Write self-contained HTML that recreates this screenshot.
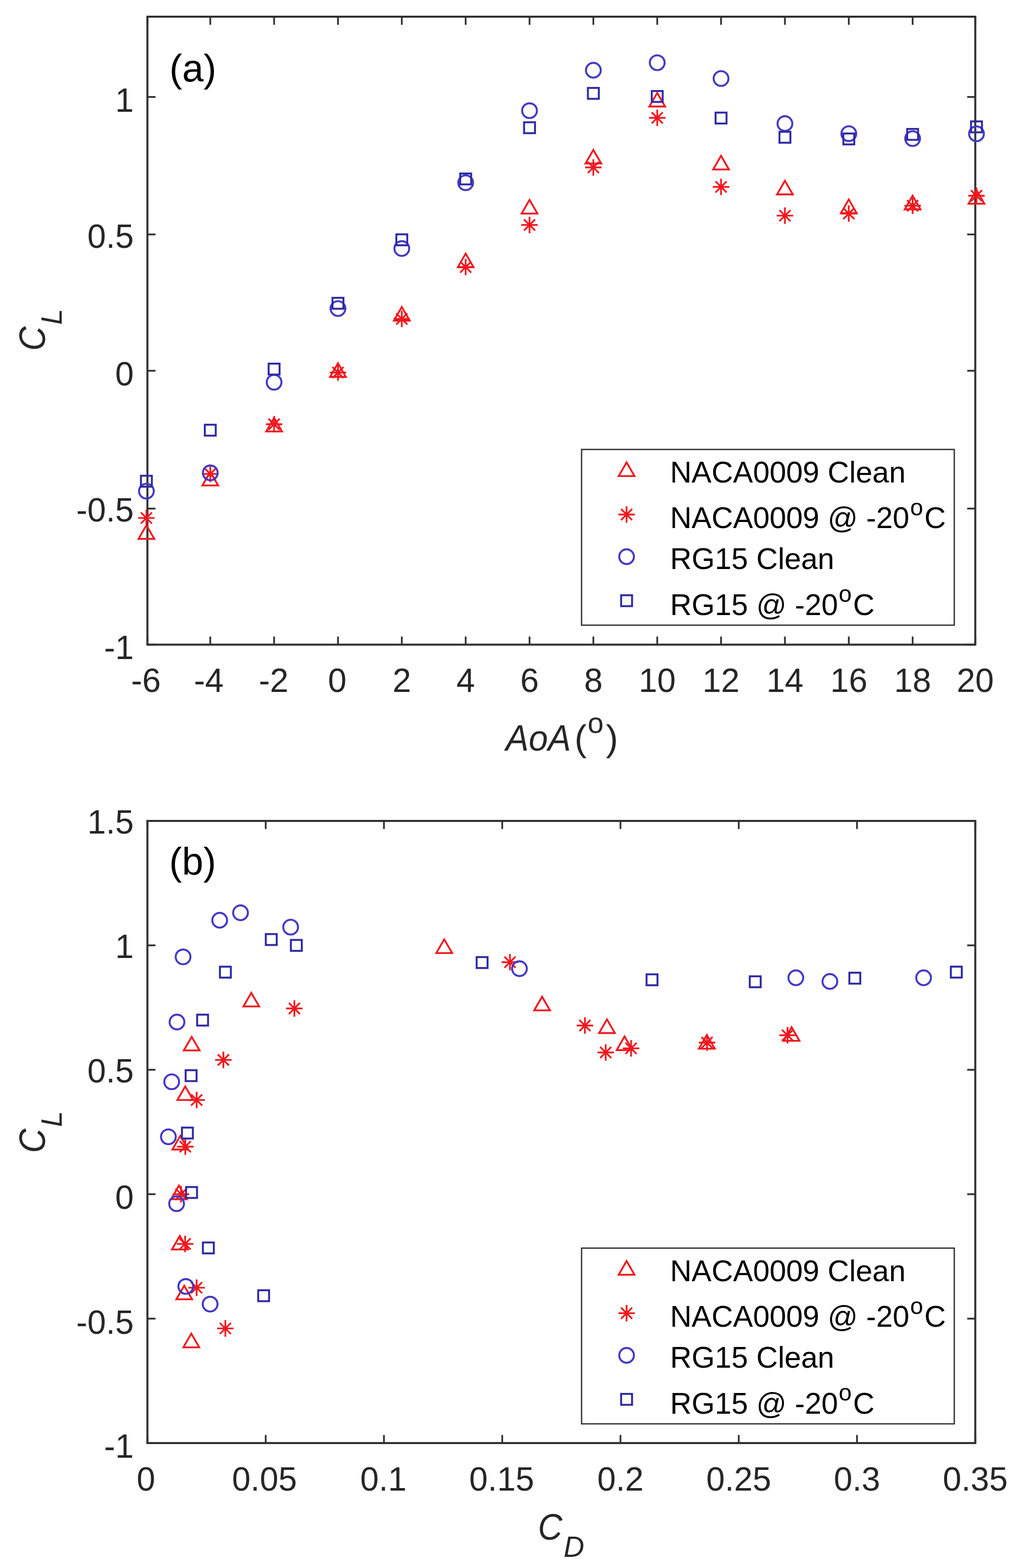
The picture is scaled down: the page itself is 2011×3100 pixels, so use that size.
<!DOCTYPE html>
<html><head><meta charset="utf-8"><title>CL plots</title>
<style>html,body{margin:0;padding:0;background:#fff;overflow:hidden;width:2011px;height:3100px;}svg{display:block;}.t{fill:none;stroke:#f0181e;stroke-width:3.6;stroke-linejoin:miter;}.a{fill:none;stroke:#f0181e;stroke-width:3.4;}.ad{fill:#f0181e;}.c{fill:none;stroke:#4338c6;stroke-width:3.9;}.s{fill:none;stroke:#2f29a4;stroke-width:3.8;}.ax{fill:none;stroke:#303030;stroke-width:4;}.tk{fill:none;stroke:#303030;stroke-width:3.4;}.lg{fill:#fff;stroke:#303030;stroke-width:2.6;}text{font-family:'Liberation Sans', Arial, Helvetica, sans-serif;}.tl{font-size:66px;fill:#262626;}.lt{font-size:59px;fill:#000;}.it{font-style:italic;}</style></head><body>
<svg width="2011" height="3100" viewBox="0 0 2011 3100">
<rect x="0" y="0" width="2011" height="3100" fill="#fff"/>
<rect x="291.5" y="33" width="1637.0" height="1241.5" class="ax"/>
<path d="M291.5,1274.5V1258.5M291.5,33V49M415.8,1274.5V1258.5M415.8,33V49M542.0,1274.5V1258.5M542.0,33V49M668.3,1274.5V1258.5M668.3,33V49M794.5,1274.5V1258.5M794.5,33V49M920.8,1274.5V1258.5M920.8,33V49M1047.1,1274.5V1258.5M1047.1,33V49M1173.3,1274.5V1258.5M1173.3,33V49M1299.6,1274.5V1258.5M1299.6,33V49M1425.8,1274.5V1258.5M1425.8,33V49M1552.1,1274.5V1258.5M1552.1,33V49M1678.4,1274.5V1258.5M1678.4,33V49M1804.6,1274.5V1258.5M1804.6,33V49M1928.5,1274.5V1258.5M1928.5,33V49M291.5,191.7H307.5M1928.5,191.7H1912.5M291.5,463.5H307.5M1928.5,463.5H1912.5M291.5,733.0H307.5M1928.5,733.0H1912.5M291.5,1005.5H307.5M1928.5,1005.5H1912.5M291.5,1274.5H307.5M1928.5,1274.5H1912.5" class="tk"/>
<text x="288.5" y="1368.0" class="tl" text-anchor="middle">-6</text>
<text x="412.8" y="1368.0" class="tl" text-anchor="middle">-4</text>
<text x="541.0" y="1368.0" class="tl" text-anchor="middle">-2</text>
<text x="666.8" y="1368.0" class="tl" text-anchor="middle">0</text>
<text x="794.5" y="1368.0" class="tl" text-anchor="middle">2</text>
<text x="920.8" y="1368.0" class="tl" text-anchor="middle">4</text>
<text x="1047.1" y="1368.0" class="tl" text-anchor="middle">6</text>
<text x="1173.3" y="1368.0" class="tl" text-anchor="middle">8</text>
<text x="1299.6" y="1368.0" class="tl" text-anchor="middle">10</text>
<text x="1425.8" y="1368.0" class="tl" text-anchor="middle">12</text>
<text x="1552.1" y="1368.0" class="tl" text-anchor="middle">14</text>
<text x="1678.4" y="1368.0" class="tl" text-anchor="middle">16</text>
<text x="1804.6" y="1368.0" class="tl" text-anchor="middle">18</text>
<text x="1928.5" y="1368.0" class="tl" text-anchor="middle">20</text>
<text x="264.5" y="220.6" class="tl" text-anchor="end">1</text>
<text x="264.5" y="489.7" class="tl" text-anchor="end">0.5</text>
<text x="264.5" y="762.1" class="tl" text-anchor="end">0</text>
<text x="264.5" y="1030.8" class="tl" text-anchor="end">-0.5</text>
<text x="264.5" y="1303.2" class="tl" text-anchor="end">-1</text>
<path d="M289.5,1038.4L305.1,1065.4L273.9,1065.4Z" class="t"/>
<path d="M415.8,932.8L431.4,959.8L400.2,959.8Z" class="t"/>
<path d="M542.0,826.0L557.6,853.0L526.4,853.0Z" class="t"/>
<path d="M668.3,718.1L683.9,745.1L652.7,745.1Z" class="t"/>
<path d="M794.5,606.9L810.1,633.9L778.9,633.9Z" class="t"/>
<path d="M920.8,501.4L936.4,528.4L905.2,528.4Z" class="t"/>
<path d="M1047.1,395.2L1062.7,422.2L1031.5,422.2Z" class="t"/>
<path d="M1173.3,296.3L1188.9,323.3L1157.7,323.3Z" class="t"/>
<path d="M1299.6,183.6L1315.2,210.6L1284.0,210.6Z" class="t"/>
<path d="M1425.8,308.0L1441.4,335.0L1410.2,335.0Z" class="t"/>
<path d="M1552.1,357.4L1567.7,384.4L1536.5,384.4Z" class="t"/>
<path d="M1678.4,394.4L1694.0,421.4L1662.8,421.4Z" class="t"/>
<path d="M1804.6,386.9L1820.2,413.9L1789.0,413.9Z" class="t"/>
<path d="M1930.9,375.7L1946.5,402.7L1915.3,402.7Z" class="t"/>
<path d="M273.2,1024.1H305.8M289.5,1007.8V1040.4M278.5,1013.1L300.5,1035.1M278.5,1035.1L300.5,1013.1" class="a"/><circle cx="289.5" cy="1024.1" r="4.5" class="ad"/>
<path d="M399.5,937.0H432.1M415.8,920.7V953.3M404.8,926.0L426.8,948.0M404.8,948.0L426.8,926.0" class="a"/><circle cx="415.8" cy="937.0" r="4.5" class="ad"/>
<path d="M525.7,838.8H558.3M542.0,822.5V855.1M531.0,827.8L553.0,849.8M531.0,849.8L553.0,827.8" class="a"/><circle cx="542.0" cy="838.8" r="4.5" class="ad"/>
<path d="M652.0,736.5H684.6M668.3,720.2V752.8M657.3,725.5L679.3,747.5M657.3,747.5L679.3,725.5" class="a"/><circle cx="668.3" cy="736.5" r="4.5" class="ad"/>
<path d="M778.2,630.5H810.8M794.5,614.2V646.8M783.5,619.5L805.5,641.5M783.5,641.5L805.5,619.5" class="a"/><circle cx="794.5" cy="630.5" r="4.5" class="ad"/>
<path d="M904.5,528.0H937.1M920.8,511.7V544.3M909.8,517.0L931.8,539.0M909.8,539.0L931.8,517.0" class="a"/><circle cx="920.8" cy="528.0" r="4.5" class="ad"/>
<path d="M1030.8,444.8H1063.4M1047.1,428.5V461.1M1036.1,433.8L1058.1,455.8M1036.1,455.8L1058.1,433.8" class="a"/><circle cx="1047.1" cy="444.8" r="4.5" class="ad"/>
<path d="M1157.0,331.0H1189.6M1173.3,314.7V347.3M1162.3,320.0L1184.3,342.0M1162.3,342.0L1184.3,320.0" class="a"/><circle cx="1173.3" cy="331.0" r="4.5" class="ad"/>
<path d="M1283.3,233.0H1315.9M1299.6,216.7V249.3M1288.6,222.0L1310.6,244.0M1288.6,244.0L1310.6,222.0" class="a"/><circle cx="1299.6" cy="233.0" r="4.5" class="ad"/>
<path d="M1409.5,369.5H1442.1M1425.8,353.2V385.8M1414.8,358.5L1436.8,380.5M1414.8,380.5L1436.8,358.5" class="a"/><circle cx="1425.8" cy="369.5" r="4.5" class="ad"/>
<path d="M1535.8,426.4H1568.4M1552.1,410.1V442.7M1541.1,415.4L1563.1,437.4M1541.1,437.4L1563.1,415.4" class="a"/><circle cx="1552.1" cy="426.4" r="4.5" class="ad"/>
<path d="M1662.1,422.3H1694.7M1678.4,406.0V438.6M1667.4,411.3L1689.4,433.3M1667.4,433.3L1689.4,411.3" class="a"/><circle cx="1678.4" cy="422.3" r="4.5" class="ad"/>
<path d="M1788.3,406.8H1820.9M1804.6,390.5V423.1M1793.6,395.8L1815.6,417.8M1793.6,417.8L1815.6,395.8" class="a"/><circle cx="1804.6" cy="406.8" r="4.5" class="ad"/>
<path d="M1914.6,387.0H1947.2M1930.9,370.7V403.3M1919.9,376.0L1941.9,398.0M1919.9,398.0L1941.9,376.0" class="a"/><circle cx="1930.9" cy="387.0" r="4.5" class="ad"/>
<circle cx="289.5" cy="971.0" r="14.6" class="c"/>
<circle cx="415.8" cy="934.8" r="14.6" class="c"/>
<circle cx="542.0" cy="755.7" r="14.6" class="c"/>
<circle cx="668.3" cy="610.0" r="14.6" class="c"/>
<circle cx="794.5" cy="491.3" r="14.6" class="c"/>
<circle cx="920.8" cy="361.2" r="14.6" class="c"/>
<circle cx="1047.1" cy="218.8" r="14.6" class="c"/>
<circle cx="1173.3" cy="138.9" r="14.6" class="c"/>
<circle cx="1299.6" cy="124.0" r="14.6" class="c"/>
<circle cx="1425.8" cy="155.2" r="14.6" class="c"/>
<circle cx="1552.1" cy="244.4" r="14.6" class="c"/>
<circle cx="1678.4" cy="264.2" r="14.6" class="c"/>
<circle cx="1804.6" cy="274.0" r="14.6" class="c"/>
<circle cx="1930.9" cy="264.5" r="14.6" class="c"/>
<rect x="278.7" y="940.6" width="21.6" height="21.6" class="s"/>
<rect x="405.0" y="839.7" width="21.6" height="21.6" class="s"/>
<rect x="531.2" y="718.9" width="21.6" height="21.6" class="s"/>
<rect x="657.5" y="588.8" width="21.6" height="21.6" class="s"/>
<rect x="783.7" y="463.3" width="21.6" height="21.6" class="s"/>
<rect x="910.0" y="343.0" width="21.6" height="21.6" class="s"/>
<rect x="1036.3" y="241.7" width="21.6" height="21.6" class="s"/>
<rect x="1162.5" y="173.8" width="21.6" height="21.6" class="s"/>
<rect x="1288.8" y="179.9" width="21.6" height="21.6" class="s"/>
<rect x="1415.0" y="222.6" width="21.6" height="21.6" class="s"/>
<rect x="1541.3" y="260.6" width="21.6" height="21.6" class="s"/>
<rect x="1667.6" y="263.9" width="21.6" height="21.6" class="s"/>
<rect x="1793.8" y="254.9" width="21.6" height="21.6" class="s"/>
<rect x="1920.1" y="240.0" width="21.6" height="21.6" class="s"/>
<rect x="1150" y="888.6" width="737" height="347.4" class="lg"/>
<path d="M1239.0,914.2L1254.6,941.2L1223.4,941.2Z" class="t"/>
<path d="M1222.7,1017.2H1255.3M1239.0,1000.9V1033.5M1228.0,1006.2L1250.0,1028.2M1228.0,1028.2L1250.0,1006.2" class="a"/><circle cx="1239.0" cy="1017.2" r="4.5" class="ad"/>
<circle cx="1239.0" cy="1100.6" r="14.6" class="c"/>
<rect x="1228.2" y="1176.8" width="21.6" height="21.6" class="s"/>
<text x="1325" y="953.8" class="lt">NACA0009 Clean</text>
<text x="1325" y="1044.4" class="lt">NACA0009 @ -20<tspan font-size="46px" dx="1.5" dy="-25.5">o</tspan><tspan dx="2.5" dy="25.5">C</tspan></text>
<text x="1325" y="1125.2" class="lt">RG15 Clean</text>
<text x="1325" y="1215.6" class="lt">RG15 @ -20<tspan font-size="46px" dx="1.5" dy="-25.5">o</tspan><tspan dx="2.5" dy="25.5">C</tspan></text>
<text x="335" y="160.5" font-size="76px" fill="#000">(a)</text>
<text transform="translate(88.5,693.5) rotate(-90) scale(0.92,1)" font-size="72.6px" fill="#262626" class="it">C</text>
<text transform="translate(122,642) rotate(-90)" font-size="56.6px" fill="#262626" class="it">L</text>
<text transform="translate(1000,1484.2) scale(0.94,1)" font-size="72.6px" fill="#262626" class="it">AoA</text>
<text x="1136" y="1484.2" font-size="72.6px" fill="#262626">(</text>
<text x="1162" y="1449" font-size="56.6px" fill="#262626">o</text>
<text x="1198" y="1484.2" font-size="72.6px" fill="#262626">)</text>
<rect x="291.5" y="1623" width="1637.0" height="1230" class="ax"/>
<path d="M291.5,2853V2837M291.5,1623V1639M525.4,2853V2837M525.4,1623V1639M759.2,2853V2837M759.2,1623V1639M993.1,2853V2837M993.1,1623V1639M1226.9,2853V2837M1226.9,1623V1639M1460.8,2853V2837M1460.8,1623V1639M1694.6,2853V2837M1694.6,1623V1639M1928.5,2853V2837M1928.5,1623V1639M291.5,1623.0H307.5M1928.5,1623.0H1912.5M291.5,1869.0H307.5M1928.5,1869.0H1912.5M291.5,2115.0H307.5M1928.5,2115.0H1912.5M291.5,2361.0H307.5M1928.5,2361.0H1912.5M291.5,2607.0H307.5M1928.5,2607.0H1912.5M291.5,2853.0H307.5M1928.5,2853.0H1912.5" class="tk"/>
<text x="288.5" y="2946.5" class="tl" text-anchor="middle">0</text>
<text x="522.9" y="2946.5" class="tl" text-anchor="middle">0.05</text>
<text x="758.2" y="2946.5" class="tl" text-anchor="middle">0.1</text>
<text x="992.1" y="2946.5" class="tl" text-anchor="middle">0.15</text>
<text x="1226.9" y="2946.5" class="tl" text-anchor="middle">0.2</text>
<text x="1460.8" y="2946.5" class="tl" text-anchor="middle">0.25</text>
<text x="1694.6" y="2946.5" class="tl" text-anchor="middle">0.3</text>
<text x="1928.5" y="2946.5" class="tl" text-anchor="middle">0.35</text>
<text x="264.5" y="1648.2" class="tl" text-anchor="end">1.5</text>
<text x="264.5" y="1893.7" class="tl" text-anchor="end">1</text>
<text x="264.5" y="2140.0" class="tl" text-anchor="end">0.5</text>
<text x="264.5" y="2389.9" class="tl" text-anchor="end">0</text>
<text x="264.5" y="2636.8" class="tl" text-anchor="end">-0.5</text>
<text x="264.5" y="2882.4" class="tl" text-anchor="end">-1</text>
<path d="M378.3,2636.7L393.9,2663.7L362.7,2663.7Z" class="t"/>
<path d="M364.3,2541.8L379.9,2568.8L348.7,2568.8Z" class="t"/>
<path d="M355.6,2443.3L371.2,2470.3L340.0,2470.3Z" class="t"/>
<path d="M353.9,2343.9L369.5,2370.9L338.3,2370.9Z" class="t"/>
<path d="M356.5,2245.6L372.1,2272.6L340.9,2272.6Z" class="t"/>
<path d="M366.3,2147.8L381.9,2174.8L350.7,2174.8Z" class="t"/>
<path d="M379.1,2049.8L394.7,2076.8L363.5,2076.8Z" class="t"/>
<path d="M496.9,1962.8L512.5,1989.8L481.3,1989.8Z" class="t"/>
<path d="M878.4,1857.2L894.0,1884.2L862.8,1884.2Z" class="t"/>
<path d="M1071.9,1970.5L1087.5,1997.5L1056.3,1997.5Z" class="t"/>
<path d="M1200.2,2015.4L1215.8,2042.4L1184.6,2042.4Z" class="t"/>
<path d="M1235.0,2049.1L1250.6,2076.1L1219.4,2076.1Z" class="t"/>
<path d="M1397.7,2046.2L1413.3,2073.2L1382.1,2073.2Z" class="t"/>
<path d="M1565.3,2030.8L1580.9,2057.8L1549.7,2057.8Z" class="t"/>
<path d="M429.3,2626.4H461.9M445.6,2610.1V2642.7M434.6,2615.4L456.6,2637.4M434.6,2637.4L456.6,2615.4" class="a"/><circle cx="445.6" cy="2626.4" r="4.5" class="ad"/>
<path d="M372.5,2545.9H405.1M388.8,2529.6V2562.2M377.8,2534.9L399.8,2556.9M377.8,2556.9L399.8,2534.9" class="a"/><circle cx="388.8" cy="2545.9" r="4.5" class="ad"/>
<path d="M349.7,2459.3H382.3M366.0,2443.0V2475.6M355.0,2448.3L377.0,2470.3M355.0,2470.3L377.0,2448.3" class="a"/><circle cx="366.0" cy="2459.3" r="4.5" class="ad"/>
<path d="M341.7,2361.0H374.3M358.0,2344.7V2377.3M347.0,2350.0L369.0,2372.0M347.0,2372.0L369.0,2350.0" class="a"/><circle cx="358.0" cy="2361.0" r="4.5" class="ad"/>
<path d="M350.1,2267.0H382.7M366.4,2250.7V2283.3M355.4,2256.0L377.4,2278.0M355.4,2278.0L377.4,2256.0" class="a"/><circle cx="366.4" cy="2267.0" r="4.5" class="ad"/>
<path d="M372.5,2174.8H405.1M388.8,2158.5V2191.1M377.8,2163.8L399.8,2185.8M377.8,2185.8L399.8,2163.8" class="a"/><circle cx="388.8" cy="2174.8" r="4.5" class="ad"/>
<path d="M425.4,2095.5H458.0M441.7,2079.2V2111.8M430.7,2084.5L452.7,2106.5M430.7,2106.5L452.7,2084.5" class="a"/><circle cx="441.7" cy="2095.5" r="4.5" class="ad"/>
<path d="M565.8,1993.8H598.4M582.1,1977.5V2010.1M571.1,1982.8L593.1,2004.8M571.1,2004.8L593.1,1982.8" class="a"/><circle cx="582.1" cy="1993.8" r="4.5" class="ad"/>
<path d="M992.1,1902.2H1024.7M1008.4,1885.9V1918.5M997.4,1891.2L1019.4,1913.2M997.4,1913.2L1019.4,1891.2" class="a"/><circle cx="1008.4" cy="1902.2" r="4.5" class="ad"/>
<path d="M1140.3,2027.5H1172.9M1156.6,2011.2V2043.8M1145.6,2016.5L1167.6,2038.5M1145.6,2038.5L1167.6,2016.5" class="a"/><circle cx="1156.6" cy="2027.5" r="4.5" class="ad"/>
<path d="M1181.4,2080.7H1214.0M1197.7,2064.4V2097.0M1186.7,2069.7L1208.7,2091.7M1186.7,2091.7L1208.7,2069.7" class="a"/><circle cx="1197.7" cy="2080.7" r="4.5" class="ad"/>
<path d="M1231.6,2072.6H1264.2M1247.9,2056.3V2088.9M1236.9,2061.6L1258.9,2083.6M1236.9,2083.6L1258.9,2061.6" class="a"/><circle cx="1247.9" cy="2072.6" r="4.5" class="ad"/>
<path d="M1381.7,2061.2H1414.3M1398.0,2044.9V2077.5M1387.0,2050.2L1409.0,2072.2M1387.0,2072.2L1409.0,2050.2" class="a"/><circle cx="1398.0" cy="2061.2" r="4.5" class="ad"/>
<path d="M1540.9,2046.7H1573.5M1557.2,2030.4V2063.0M1546.2,2035.7L1568.2,2057.7M1546.2,2057.7L1568.2,2035.7" class="a"/><circle cx="1557.2" cy="2046.7" r="4.5" class="ad"/>
<circle cx="415.5" cy="2578.3" r="14.6" class="c"/>
<circle cx="367.4" cy="2543.3" r="14.6" class="c"/>
<circle cx="349.2" cy="2379.7" r="14.6" class="c"/>
<circle cx="333.0" cy="2247.5" r="14.6" class="c"/>
<circle cx="339.5" cy="2138.7" r="14.6" class="c"/>
<circle cx="350.0" cy="2020.6" r="14.6" class="c"/>
<circle cx="362.0" cy="1891.8" r="14.6" class="c"/>
<circle cx="434.4" cy="1819.4" r="14.6" class="c"/>
<circle cx="475.6" cy="1804.6" r="14.6" class="c"/>
<circle cx="574.7" cy="1833.0" r="14.6" class="c"/>
<circle cx="1027.2" cy="1915.1" r="14.6" class="c"/>
<circle cx="1573.7" cy="1933.1" r="14.6" class="c"/>
<circle cx="1641.0" cy="1940.4" r="14.6" class="c"/>
<circle cx="1826.3" cy="1933.1" r="14.6" class="c"/>
<rect x="510.5" y="2550.9" width="21.6" height="21.6" class="s"/>
<rect x="401.2" y="2456.4" width="21.6" height="21.6" class="s"/>
<rect x="368.0" y="2346.8" width="21.6" height="21.6" class="s"/>
<rect x="359.8" y="2229.3" width="21.6" height="21.6" class="s"/>
<rect x="367.1" y="2115.8" width="21.6" height="21.6" class="s"/>
<rect x="389.8" y="2006.0" width="21.6" height="21.6" class="s"/>
<rect x="434.9" y="1911.2" width="21.6" height="21.6" class="s"/>
<rect x="525.6" y="1846.7" width="21.6" height="21.6" class="s"/>
<rect x="575.2" y="1858.3" width="21.6" height="21.6" class="s"/>
<rect x="942.5" y="1892.2" width="21.6" height="21.6" class="s"/>
<rect x="1278.5" y="1926.3" width="21.6" height="21.6" class="s"/>
<rect x="1482.6" y="1930.2" width="21.6" height="21.6" class="s"/>
<rect x="1679.5" y="1923.1" width="21.6" height="21.6" class="s"/>
<rect x="1880.2" y="1911.1" width="21.6" height="21.6" class="s"/>
<rect x="1150" y="2467.6" width="737" height="347.4" class="lg"/>
<path d="M1239.0,2493.2L1254.6,2520.2L1223.4,2520.2Z" class="t"/>
<path d="M1222.7,2596.2H1255.3M1239.0,2579.9V2612.5M1228.0,2585.2L1250.0,2607.2M1228.0,2607.2L1250.0,2585.2" class="a"/><circle cx="1239.0" cy="2596.2" r="4.5" class="ad"/>
<circle cx="1239.0" cy="2679.6" r="14.6" class="c"/>
<rect x="1228.2" y="2755.8" width="21.6" height="21.6" class="s"/>
<text x="1325" y="2532.8" class="lt">NACA0009 Clean</text>
<text x="1325" y="2623.4" class="lt">NACA0009 @ -20<tspan font-size="46px" dx="1.5" dy="-25.5">o</tspan><tspan dx="2.5" dy="25.5">C</tspan></text>
<text x="1325" y="2704.2" class="lt">RG15 Clean</text>
<text x="1325" y="2794.6" class="lt">RG15 @ -20<tspan font-size="46px" dx="1.5" dy="-25.5">o</tspan><tspan dx="2.5" dy="25.5">C</tspan></text>
<text x="334.5" y="1729" font-size="76px" fill="#000">(b)</text>
<text transform="translate(88.5,2279.5) rotate(-90) scale(0.92,1)" font-size="72.6px" fill="#262626" class="it">C</text>
<text transform="translate(122,2228) rotate(-90)" font-size="56.6px" fill="#262626" class="it">L</text>
<text transform="translate(1063.7,3043.5) scale(0.92,1)" font-size="72.6px" fill="#262626" class="it">C</text>
<text x="1114.5" y="3077.5" font-size="56.6px" fill="#262626" class="it">D</text>
</svg></body></html>
